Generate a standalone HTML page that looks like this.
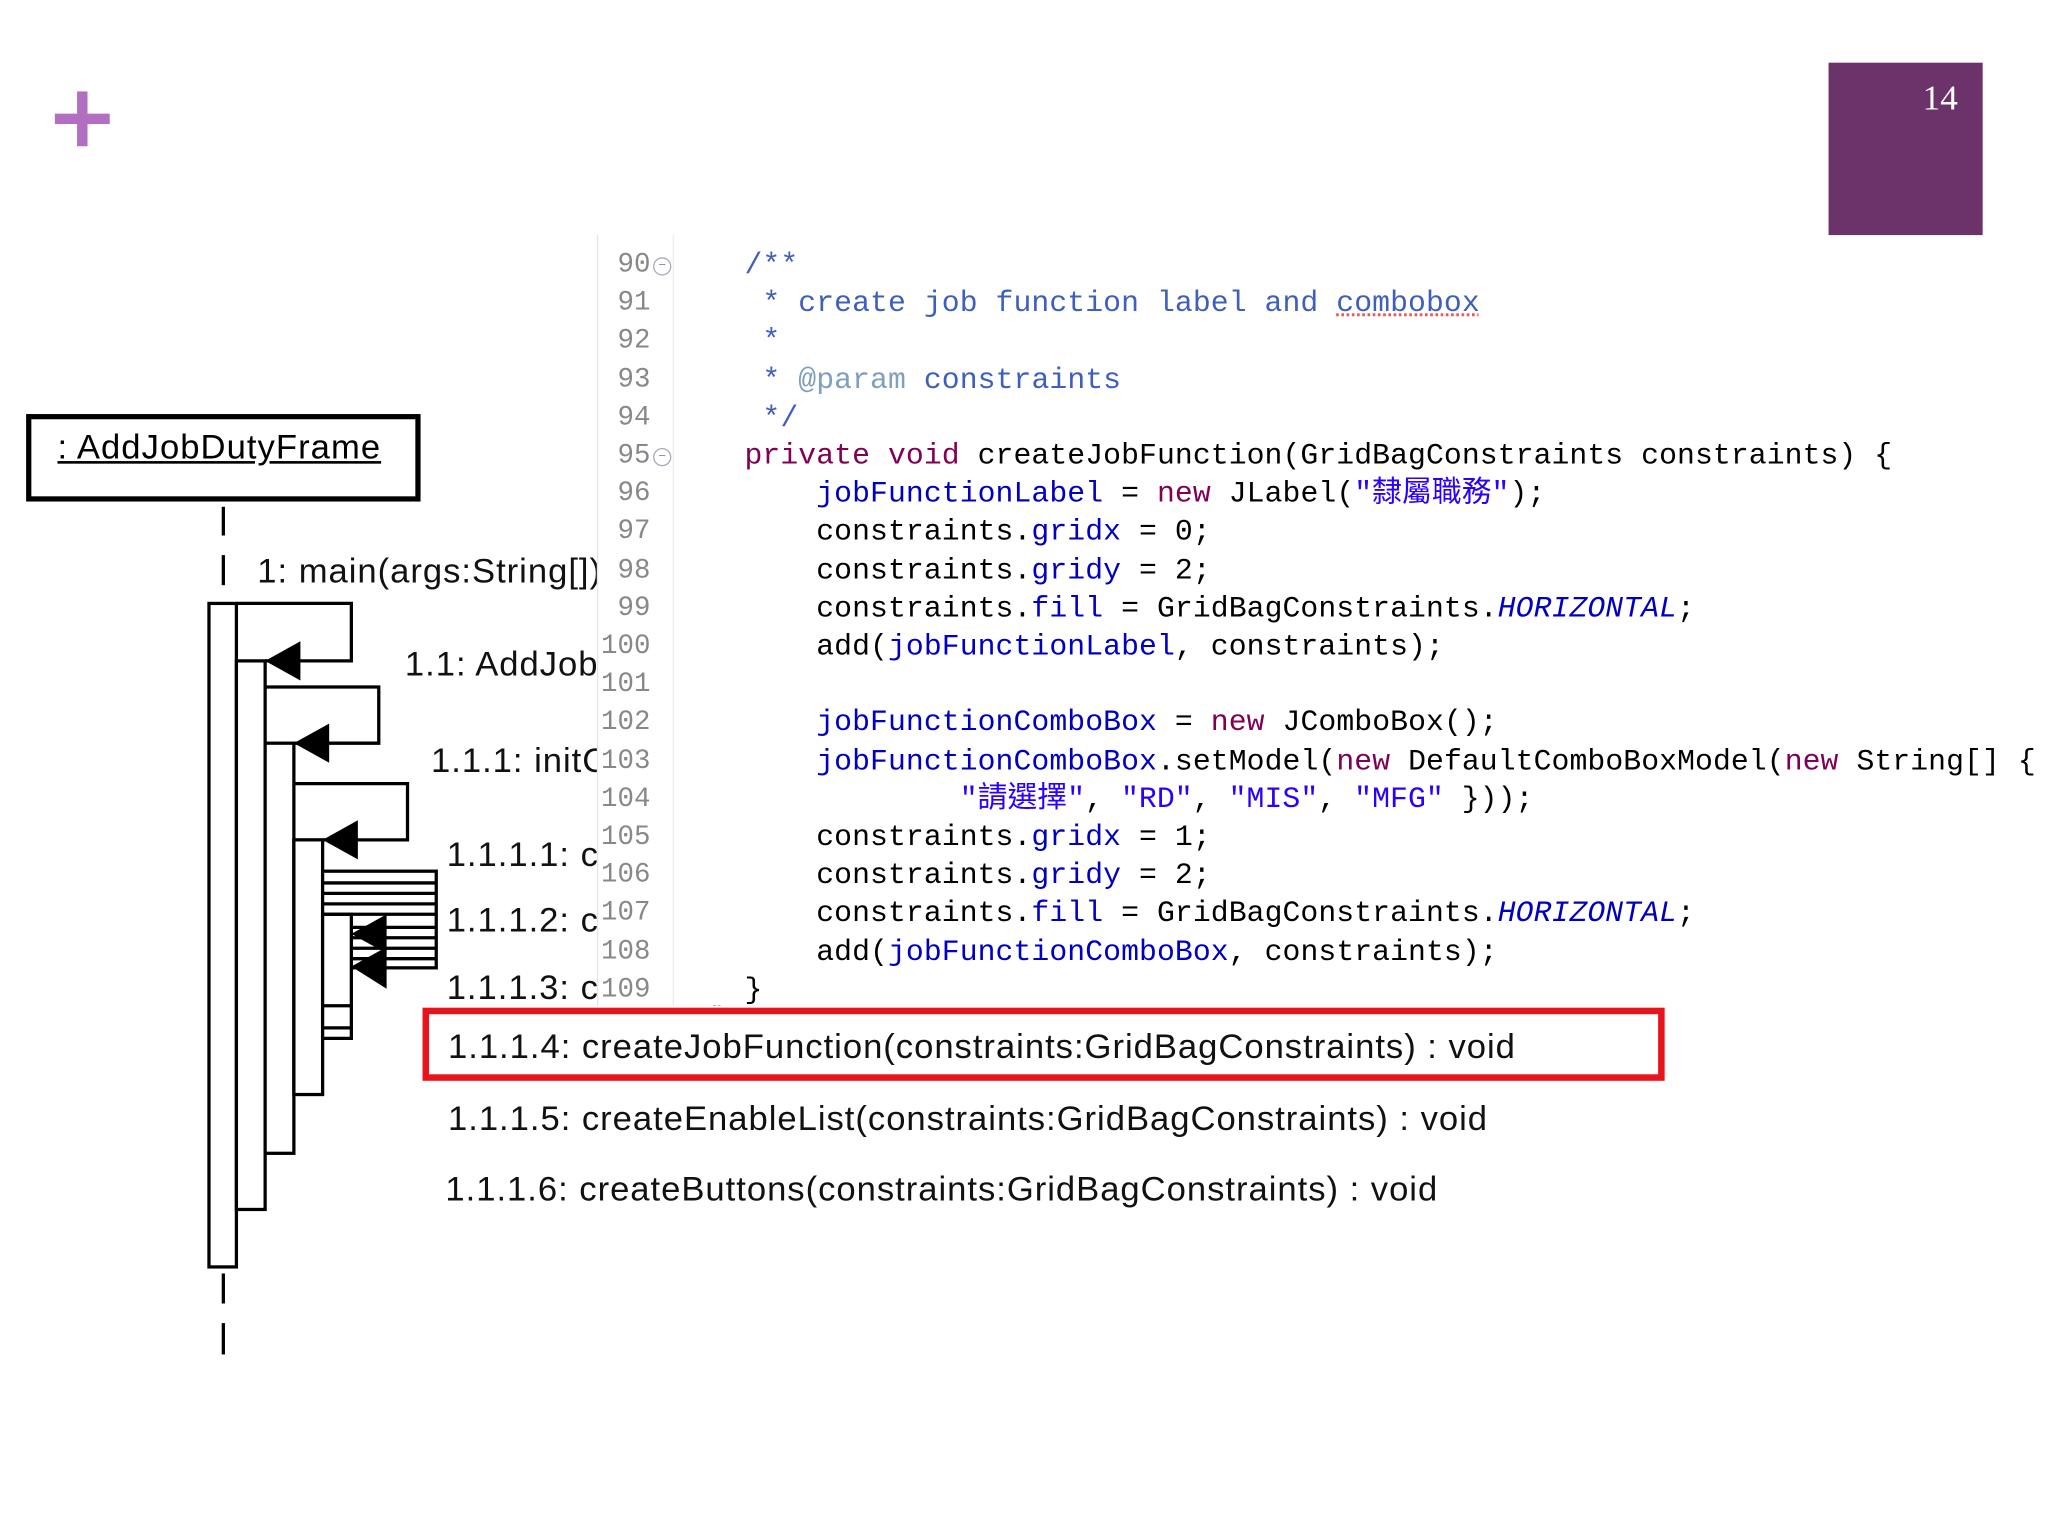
<!DOCTYPE html>
<html><head><meta charset="utf-8"><style>
html,body{margin:0;padding:0;background:#fff;}
#wrap{position:relative;width:1568px;height:1176px;transform:scale(1.30612);transform-origin:0 0;overflow:hidden;font-family:"Liberation Sans","Noto Sans CJK TC",sans-serif;}
.abs{position:absolute;white-space:pre;}
.lbl{position:absolute;white-space:pre;font-size:26.5px;color:#111;line-height:30px;letter-spacing:0.75px;}
#code{position:absolute;left:457px;top:180px;width:1111px;height:590px;background:#fff;border-left:1px solid #e4e4e4;}
#gut{position:absolute;left:457px;top:180px;width:58px;height:590px;border-right:1px solid #ececec;}
.ln{position:absolute;width:41px;left:457px;text-align:right;font-family:"Liberation Mono",monospace;font-size:21px;color:#888;line-height:29.2px;}
.cl{position:absolute;left:570px;font-family:"Liberation Mono","Noto Sans CJK TC",monospace;font-size:22.8px;color:#000;line-height:29.2px;white-space:pre;letter-spacing:0.05px;}
.cm{color:#3f5fbf}.kw{color:#7f0055}.fd{color:#0000c0}.st{color:#2a00ff}.tg{color:#7f9fbf}
.fold{position:absolute;left:500px;width:12px;height:12px;border:1px solid #aab;border-radius:50%;font-size:10px;line-height:12px;text-align:center;color:#889;}
</style></head><body><div id="wrap">
<div class="abs" style="left:42px;top:87px;width:42px;height:8px;background:#b26fc2"></div>
<div class="abs" style="left:59px;top:70px;width:8px;height:42px;background:#b26fc2"></div>
<div class="abs" style="left:1400px;top:48px;width:118px;height:133px;background:#6b3369"></div>
<div class="abs" style="left:1472px;top:60px;font-family:'Liberation Serif',serif;font-size:27px;color:#fff">14</div>

<div class="lbl" style="left:197px;top:422px">1: main(args:String[])</div>
<div class="lbl" style="left:310px;top:493px">1.1: AddJobDutyFrame()</div>
<div class="lbl" style="left:330px;top:567px">1.1.1: initComponents()</div>
<div class="lbl" style="left:342px;top:639px">1.1.1.1: createX()</div>
<div class="lbl" style="left:342px;top:689px">1.1.1.2: createY()</div>
<div class="lbl" style="left:342px;top:741px">1.1.1.3: createZ()</div>

<div id="code"></div><div id="gut"></div>
<div class="fold" style="top:197px">−</div>
<div class="fold" style="top:343px">−</div>
<div class="ln" style="top:189px">90<br>91<br>92<br>93<br>94<br>95<br>96<br>97<br>98<br>99<br>100<br>101<br>102<br>103<br>104<br>105<br>106<br>107<br>108<br>109</div>
<div class="cl" style="top:189px"><span class="cm">/**
 * create job function label and <span style="text-decoration:underline dotted #e55">combobox</span>
 *
 * <span class="tg">@param</span> constraints
 */</span>
<span class="kw">private void</span> createJobFunction(GridBagConstraints constraints) {
    <span class="fd">jobFunctionLabel</span> = <span class="kw">new</span> JLabel(<span class="st">"隸屬職務"</span>);
    constraints.<span class="fd">gridx</span> = 0;
    constraints.<span class="fd">gridy</span> = 2;
    constraints.<span class="fd">fill</span> = GridBagConstraints.<i class="fd">HORIZONTAL</i>;
    add(<span class="fd">jobFunctionLabel</span>, constraints);

    <span class="fd">jobFunctionComboBox</span> = <span class="kw">new</span> JComboBox();
    <span class="fd">jobFunctionComboBox</span>.setModel(<span class="kw">new</span> DefaultComboBoxModel(<span class="kw">new</span> String[] {
            <span class="st">"請選擇"</span>, <span class="st">"RD"</span>, <span class="st">"MIS"</span>, <span class="st">"MFG"</span> }));
    constraints.<span class="fd">gridx</span> = 1;
    constraints.<span class="fd">gridy</span> = 2;
    constraints.<span class="fd">fill</span> = GridBagConstraints.<i class="fd">HORIZONTAL</i>;
    add(<span class="fd">jobFunctionComboBox</span>, constraints);
}</div>

<svg class="abs" style="left:0;top:0" width="1568" height="1176">
<rect x="22" y="319" width="298" height="63" fill="#fff" stroke="#000" stroke-width="4"/>
<g stroke="#000" stroke-width="2.5">
<line x1="171" y1="388" x2="171" y2="410"/><line x1="171" y1="425" x2="171" y2="448"/>
<line x1="171" y1="975" x2="171" y2="998"/><line x1="171" y1="1013" x2="171" y2="1037"/>
</g>
<g fill="#fff" stroke="#000" stroke-width="2.5">
<rect x="160" y="462" width="21" height="508"/>
<rect x="181" y="506" width="22" height="420"/>
<rect x="203" y="569" width="22" height="314"/>
<rect x="225" y="643" width="22" height="195"/>
<rect x="247" y="667" width="87" height="74"/>
<rect x="247" y="700" width="22" height="95"/>
</g>
<g fill="none" stroke="#000" stroke-width="2.5">
<polyline points="181,462 269,462 269,506 203,506"/>
<polyline points="203,526 290,526 290,569 225,569"/>
<polyline points="225,600 312,600 312,643 247,643"/>
<line x1="247" y1="676" x2="334" y2="676"/><line x1="247" y1="684" x2="334" y2="684"/>
<line x1="247" y1="692" x2="334" y2="692"/><line x1="247" y1="700" x2="334" y2="700"/>
<line x1="269" y1="710" x2="334" y2="710"/><line x1="269" y1="718" x2="334" y2="718"/>
<line x1="269" y1="726" x2="334" y2="726"/><line x1="269" y1="734" x2="334" y2="734"/>
<line x1="247" y1="770" x2="269" y2="770"/><line x1="247" y1="787" x2="269" y2="787"/>
</g>
<g fill="#000">
<polygon points="203,506 230,491 230,521"/>
<polygon points="225,569 252,554 252,584"/>
<polygon points="247,643 274,628 274,658"/>
<polygon points="269,715 296,700 296,730"/>
<polygon points="269,740 296,725 296,757"/>
</g>
<rect x="326" y="774" width="946" height="51" fill="none" stroke="#e8141c" stroke-width="5"/>
</svg>
<div class="abs" style="left:44px;top:327px;font-size:26.5px;text-decoration:underline;letter-spacing:0.8px">: AddJobDutyFrame</div>

<div class="lbl" style="left:343px;top:786px">1.1.1.4: createJobFunction(constraints:GridBagConstraints) : void</div>
<div class="lbl" style="left:343px;top:841px">1.1.1.5: createEnableList(constraints:GridBagConstraints) : void</div>
<div class="lbl" style="left:341px;top:895px">1.1.1.6: createButtons(constraints:GridBagConstraints) : void</div>
</div></body></html>
